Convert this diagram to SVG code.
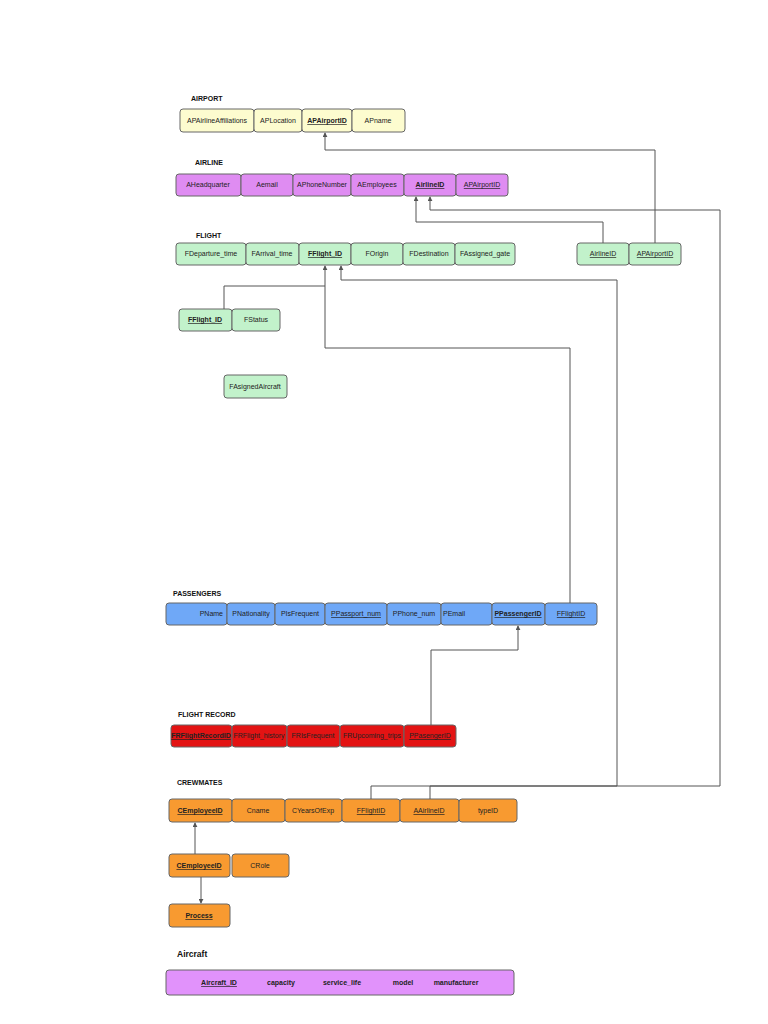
<svg xmlns="http://www.w3.org/2000/svg" width="768" height="1024" viewBox="0 0 768 1024">
<style>
text{font-family:"Liberation Sans",Arial,sans-serif;font-size:7px;fill:#222}
.t{font-weight:bold;font-size:7px;fill:#111}
.k{font-weight:bold;text-decoration:underline}
.u{text-decoration:underline}
rect{stroke:#666;stroke-width:1}
.ap rect{fill:#fdfccf}
.al rect{fill:#df8cf2}
.fl rect{fill:#c2f2cb}
.pa rect{fill:#6fa8f7}
.fr rect{fill:#e31313}
.cr rect{fill:#f89a30}
.ac rect{fill:#e192fb}
.c path{fill:none;stroke:#555;stroke-width:1}
</style>
<defs>
<marker id="ar" viewBox="0 0 6 6" refX="5" refY="3" markerWidth="5" markerHeight="5" orient="auto"><path d="M0,0L6,3L0,6z" fill="#555"/></marker>
</defs>
<rect width="768" height="1024" fill="#fff" style="stroke:none"/>

<g id="airport" class="ap">
<text class="t" x="191" y="101">AIRPORT</text>
<rect x="180" y="109" width="74" height="23" rx="3"/><text x="217" y="123" text-anchor="middle">APAirlineAffiliations</text>
<rect x="254" y="109" width="48" height="23" rx="3"/><text x="278" y="123" text-anchor="middle">APLocation</text>
<rect x="302" y="109" width="50" height="23" rx="3"/><text class="k" x="327" y="123" text-anchor="middle">APAirportID</text>
<rect x="352" y="109" width="53" height="23" rx="3"/><text x="378" y="123" text-anchor="middle">APname</text>
</g>

<g id="airline" class="al">
<text class="t" x="195" y="165">AIRLINE</text>
<rect x="176" y="174" width="65" height="22" rx="3"/><text x="208" y="187" text-anchor="middle">AHeadquarter</text>
<rect x="241" y="174" width="52" height="22" rx="3"/><text x="267" y="187" text-anchor="middle">Aemail</text>
<rect x="293" y="174" width="58" height="22" rx="3"/><text x="322" y="187" text-anchor="middle">APhoneNumber</text>
<rect x="351" y="174" width="53" height="22" rx="3"/><text x="377" y="187" text-anchor="middle">AEmployees</text>
<rect x="404" y="174" width="52" height="22" rx="3"/><text class="k" x="430" y="187" text-anchor="middle">AirlineID</text>
<rect x="456" y="174" width="52" height="22" rx="3"/><text class="u" x="482" y="187" text-anchor="middle">APAirportID</text>
</g>

<g id="flight" class="fl">
<text class="t" x="196" y="238">FLIGHT</text>
<rect x="176" y="243" width="70" height="22" rx="3"/><text x="211" y="256" text-anchor="middle">FDeparture_time</text>
<rect x="246" y="243" width="53" height="22" rx="3"/><text x="272" y="256" text-anchor="middle">FArrival_time</text>
<rect x="299" y="243" width="52" height="22" rx="3"/><text class="k" x="325" y="256" text-anchor="middle">FFlight_ID</text>
<rect x="351" y="243" width="52" height="22" rx="3"/><text x="377" y="256" text-anchor="middle">FOrigin</text>
<rect x="403" y="243" width="52" height="22" rx="3"/><text x="429" y="256" text-anchor="middle">FDestination</text>
<rect x="455" y="243" width="60" height="22" rx="3"/><text x="485" y="256" text-anchor="middle">FAssigned_gate</text>
</g>

<g id="flight-links" class="fl">
<rect x="577" y="243" width="52" height="22" rx="3"/><text class="u" x="603" y="256" text-anchor="middle">AirlineID</text>
<rect x="629" y="243" width="52" height="22" rx="3"/><text class="u" x="655" y="256" text-anchor="middle">APAirportID</text>
</g>

<g id="flight-status" class="fl">
<rect x="179" y="309" width="53" height="22" rx="3"/><text class="k" x="205" y="322" text-anchor="middle">FFlight_ID</text>
<rect x="232" y="309" width="48" height="22" rx="3"/><text x="256" y="322" text-anchor="middle">FStatus</text>
</g>

<g id="flight-aircraft" class="fl">
<rect x="224" y="375" width="63" height="23" rx="3"/><text x="255" y="389" text-anchor="middle">FAsignedAircraft</text>
</g>

<g id="passengers" class="pa">
<text class="t" x="173" y="596">PASSENGERS</text>
<rect x="166" y="603" width="61" height="22" rx="3"/><text x="223" y="616" text-anchor="end">PName</text>
<rect x="227" y="603" width="48" height="22" rx="3"/><text x="251" y="616" text-anchor="middle">PNationality</text>
<rect x="275" y="603" width="50" height="22" rx="3"/><text x="300" y="616" text-anchor="middle">PIsFrequent</text>
<rect x="325" y="603" width="62" height="22" rx="3"/><text class="u" x="356" y="616" text-anchor="middle">PPassport_num</text>
<rect x="387" y="603" width="54" height="22" rx="3"/><text x="414" y="616" text-anchor="middle">PPhone_num</text>
<rect x="441" y="603" width="51" height="22" rx="3"/><text x="443" y="616">PEmail</text>
<rect x="492" y="603" width="53" height="22" rx="3"/><text class="k" x="518" y="616" text-anchor="middle">PPassengerID</text>
<rect x="545" y="603" width="52" height="22" rx="3"/><text class="u" x="571" y="616" text-anchor="middle">FFlightID</text>
</g>

<g id="flight-record" class="fr">
<text class="t" x="178" y="717">FLIGHT RECORD</text>
<rect x="171" y="725" width="61" height="22" rx="3"/><text class="k" x="201" y="738" text-anchor="middle">FRFlightRecordID</text>
<rect x="232" y="725" width="55" height="22" rx="3"/><text x="259" y="738" text-anchor="middle">FRFlight_history</text>
<rect x="287" y="725" width="53" height="22" rx="3"/><text x="313" y="738" text-anchor="middle">FRIsFrequent</text>
<rect x="340" y="725" width="64" height="22" rx="3"/><text x="372" y="738" text-anchor="middle">FRUpcoming_trips</text>
<rect x="404" y="725" width="52" height="22" rx="3"/><text class="u" x="430" y="738" text-anchor="middle">PPasengerID</text>
</g>

<g id="crewmates" class="cr">
<text class="t" x="177" y="785">CREWMATES</text>
<rect x="169" y="799" width="63" height="23" rx="3"/><text class="k" x="200" y="813" text-anchor="middle">CEmployeeID</text>
<rect x="232" y="799" width="53" height="23" rx="3"/><text x="258" y="813" text-anchor="middle">Cname</text>
<rect x="285" y="799" width="57" height="23" rx="3"/><text x="313" y="813" text-anchor="middle">CYearsOfExp</text>
<rect x="342" y="799" width="58" height="23" rx="3"/><text class="u" x="371" y="813" text-anchor="middle">FFlightID</text>
<rect x="400" y="799" width="59" height="23" rx="3"/><text class="u" x="429" y="813" text-anchor="middle">AAirlineID</text>
<rect x="459" y="799" width="58" height="23" rx="3"/><text x="488" y="813" text-anchor="middle">typeID</text>
</g>

<g id="crew-role" class="cr">
<rect x="169" y="854" width="61" height="23" rx="3"/><text class="k" x="199" y="868" text-anchor="middle">CEmployeeID</text>
<rect x="232" y="854" width="57" height="23" rx="3"/><text x="260" y="868" text-anchor="middle">CRole</text>
</g>

<g id="process" class="cr">
<rect x="169" y="904" width="61" height="23" rx="3"/><text class="k" x="199" y="918" text-anchor="middle">Process</text>
</g>

<g id="aircraft" class="ac">
<text class="t" x="177" y="957" style="font-size:8.5px">Aircraft</text>
<rect x="166" y="970" width="348" height="25" rx="3"/>
<text class="k" x="219" y="985" text-anchor="middle">Aircraft_ID</text>
<text x="281" y="985" text-anchor="middle" style="font-weight:bold">capacity</text>
<text x="342" y="985" text-anchor="middle" style="font-weight:bold">service_life</text>
<text x="403" y="985" text-anchor="middle" style="font-weight:bold">model</text>
<text x="456" y="985" text-anchor="middle" style="font-weight:bold">manufacturer</text>
</g>

<g id="connectors" class="c">
<path d="M655,243V150H325V133" marker-end="url(#ar)"/>
<path d="M603,243V222H416V197" marker-end="url(#ar)"/>
<path d="M430,799V786H720V210H430V197" marker-end="url(#ar)"/>
<path d="M371,799V786H617V280H341V266" marker-end="url(#ar)"/>
<path d="M570,603V348H325V266" marker-end="url(#ar)"/>
<path d="M224,309V286H325"/>
<path d="M431,725V650H518V626" marker-end="url(#ar)"/>
<path d="M195,854V823" marker-end="url(#ar)"/>
<path d="M201,877V903" marker-end="url(#ar)"/>
</g>
</svg>
